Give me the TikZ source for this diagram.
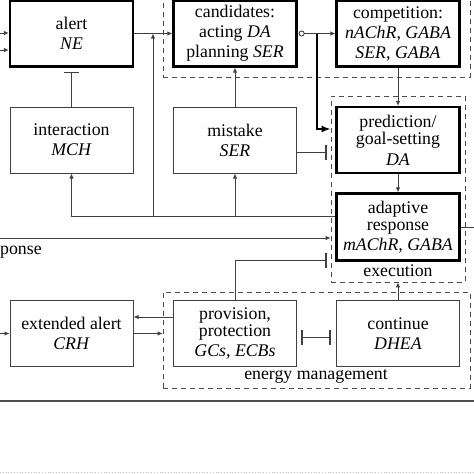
\documentclass[tikz,border=0pt]{standalone}
\usepackage{fontspec}
\setmainfont{Liberation Serif}
\usetikzlibrary{arrows.meta,calc}
\begin{document}
\begin{tikzpicture}[x=1pt,y=-1pt,
  every node/.style={font=\fontsize{17.8}{20}\selectfont},
  box/.style={draw=black!75, line width=1pt, minimum width=123pt, minimum height=66pt, align=center, inner sep=0pt},
  tbox/.style={box, draw=black, line width=2.3pt},
  grp/.style={draw=black!70, dash pattern=on 5pt off 4pt, line width=0.8pt, inner sep=0pt},
  conn/.style={draw=black!75, line width=0.9pt},
  arr/.style={conn, -{Latex[length=5pt,width=4.5pt]}},
  inh/.style={conn, -{Bar[width=15pt,line width=1.8pt]}},
  lbl/.style={inner sep=0pt},
]
\useasboundingbox (0,0) rectangle (474,474);
\clip (0,0) rectangle (474,474);

% groups
\node[grp, minimum width=307pt, minimum height=90pt] (topg) at (316.5,32) {};
\node[grp, minimum width=134pt, minimum height=186pt] (exec) at (398,189) {};
\node[grp, minimum width=307pt, minimum height=96pt] (energy) at (316.5,340) {};

% boxes
\node[tbox] (alert) at (71.5,33.5) {alert\\\textit{NE}};
\node[tbox] (cand) at (235,33.5) {candidates:\\acting \textit{DA}\\planning \textit{SER}};
\node[tbox] (comp) at (398,33.5) {competition:\\\textit{nAChR, GABA}\\\textit{SER, GABA}};
\node[box] (inter) at (71.5,140) {interaction\\\textit{MCH}};
\node[box] (mist) at (235,140) {mistake\\\textit{SER}};
\node[tbox] (pred) at (398,140) {prediction/\\[-3pt]goal-setting\\[1pt]\textit{DA}};
\node[tbox, minimum height=67pt] (adap) at (398,227) {adaptive\\[-3pt]response\\[0pt]\textit{mAChR, GABA}};
\node[box] (ext) at (71.5,333.5) {extended alert\\\textit{CRH}};
\node[box] (prov) at (235,333.5) {provision,\\[-3pt]protection\\\textit{GCs, ECBs}};
\node[box] (cont) at (398,333.5) {continue\\\textit{DHEA}};

% labels
\node[lbl] (execl) at (398,271) {execution};
\node[lbl] (energyl) at (316,376) {energy management};
\node[lbl, anchor=base west] (resp) at (0,254) {ponse};

% free ends
\coordinate (in1) at (0,33);
\coordinate (in2) at (0,50);
\coordinate (in3) at (0,333.5);
\coordinate (in4) at (0,238);
\coordinate (out1) at (474,227);
\coordinate (j1) at (317,33.5);
\coordinate (j2) at (153,216);
\coordinate (j3) at (153,33.5);
\coordinate (bl) at (adap.west |- 0,216);
\coordinate (sepL) at (0,401);
\coordinate (sepR) at (474,401);
\coordinate (dotL) at (0,472);
\coordinate (dotR) at (474,472);

% connectors
\draw[arr] (in1) -- (in1 -| alert.west);
\draw[arr] (in2) -- (in2 -| alert.west);
\draw[arr] (alert.east) -- (cand.west);
\draw[conn, {Circle[open,length=6pt,width=6pt,line width=0.9pt]}-{Latex[length=5pt,width=4.5pt]}, shorten <=1pt] (cand.east) -- (comp.west);
\draw[line width=1.7pt, -{Latex[length=9pt,width=7pt]}] (j1) |- (exec.west |- 0,129);
\draw[arr] (comp.south) -- (pred.north);
\draw[arr] (pred.south) -- (adap.north);
\draw[arr] (mist.north) -- (cand.south);
\draw[inh, shorten >=4pt] (inter.north) -- (alert.south);
\draw[inh, shorten >=4pt] (mist.east |- 0,152) -- (exec.west |- 0,152);
\draw[arr] (bl) -| (inter.south);
\draw[arr] (mist.south |- bl) -- (mist.south);
\draw[arr] (j2) -- (j3);
\draw[arr] (in4) -- (in4 -| exec.west);
\draw[conn] (adap.east) -- (out1);
\draw[inh, shorten >=4pt] (prov.north) |- (exec.west |- 0,260);
\draw[arr] (prov.west |- 0,317) -- (ext.east |- 0,317);
\draw[arr] (ext.east) -- (ext.east -| energy.west);
\draw[arr] (in3) -- (ext.west);
\draw[arr] (cont.north) -- (exec.south);
\draw[conn, {Bar[width=15pt,line width=1.8pt]}-{Bar[width=15pt,line width=1.8pt]}, shorten <=4pt, shorten >=5pt] (prov.east |- 0,337) -- (cont.west |- 0,337);

% separators
\draw[black!70, line width=1.2pt] (sepL) -- (sepR);
\draw[black!25, dotted, line width=0.8pt] (dotL) -- (dotR);
\end{tikzpicture}
\end{document}
